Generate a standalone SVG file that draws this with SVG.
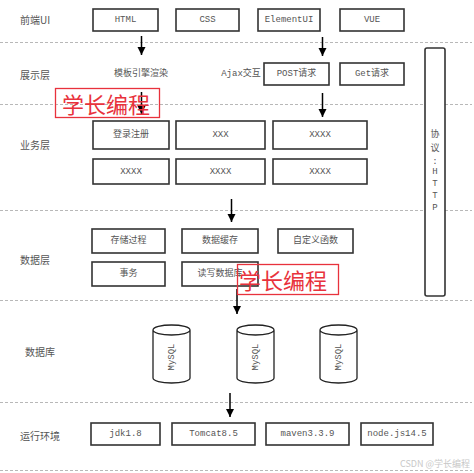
<svg xmlns="http://www.w3.org/2000/svg" width="474" height="473" viewBox="0 0 474 473">
<defs>
<marker id="arr" markerWidth="8" markerHeight="10" refX="8" refY="4" orient="auto" markerUnits="userSpaceOnUse">
<path d="M0,0 L8,4 L0,8 Z" fill="#000"/>
</marker>
</defs>
<style>
.bg{fill:#fff}
.sep{stroke:#b8b8b8;stroke-width:1;stroke-dasharray:3,2;fill:none}
.box{fill:#fff;stroke:#333;stroke-width:1.6}
.t{font-family:"Liberation Mono","Noto Sans CJK SC",monospace;font-size:9px;fill:#555;text-anchor:middle;dominant-baseline:central}
.lbl{font-family:"Noto Sans CJK SC","Liberation Sans",sans-serif;font-size:10px;fill:#555;dominant-baseline:central}
.cyl{fill:#fff;stroke:#222;stroke-width:1.3}
.edge{stroke:#000;stroke-width:1.5;fill:none;marker-end:url(#arr)}
.wm{fill:none;stroke:#e8323c;stroke-width:1.3}
.wmt{font-family:"Noto Sans CJK SC",sans-serif;font-size:22px;fill:#e8323c;dominant-baseline:central}
</style>
<rect class="bg" x="0" y="0" width="474" height="473"/>
<g id="separators">
<line class="sep" x1="0" y1="42.5" x2="472" y2="42.5"/>
<line class="sep" x1="0" y1="104.5" x2="472" y2="104.5"/>
<line class="sep" x1="0" y1="210.5" x2="472" y2="210.5"/>
<line class="sep" x1="0" y1="300.5" x2="472" y2="300.5"/>
<line class="sep" x1="0" y1="402.5" x2="472" y2="402.5"/>
<line class="sep" x1="0" y1="470.5" x2="472" y2="470.5"/>
</g>
<g id="layer-labels">
<text class="lbl" x="20" y="19">前端UI</text>
<text class="lbl" x="20" y="74">展示层</text>
<text class="lbl" x="20" y="144">业务层</text>
<text class="lbl" x="20" y="259">数据层</text>
<text class="lbl" x="25" y="351">数据库</text>
<text class="lbl" x="20" y="435">运行环境</text>
</g>
<g id="protocol">
<rect class="box" x="425" y="48" width="20" height="248" rx="2"/>
<text class="t" x="435" y="135">协</text>
<text class="t" x="435" y="149">议</text>
<text class="t" x="435" y="162">:</text>
<text class="t" x="435" y="172">H</text>
<text class="t" x="435" y="184">T</text>
<text class="t" x="435" y="196">T</text>
<text class="t" x="435" y="208">P</text>
</g>
<g id="html"><rect class="box" x="93" y="9" width="65" height="22"/><text class="t" x="125.5" y="20">HTML</text></g>
<g id="css"><rect class="box" x="176" y="9" width="63" height="22"/><text class="t" x="207.5" y="20">CSS</text></g>
<g id="elementui"><rect class="box" x="258" y="9" width="62" height="22"/><text class="t" x="289" y="20">ElementUI</text></g>
<g id="vue"><rect class="box" x="340" y="9" width="64" height="22"/><text class="t" x="372" y="20">VUE</text></g>
<g id="template"><text class="t" x="141" y="74">模板引擎渲染</text></g>
<g id="ajax"><text class="t" x="241" y="74">Ajax交互</text></g>
<g id="post"><rect class="box" x="264" y="63" width="65" height="22"/><text class="t" x="296.5" y="74">POST请求</text></g>
<g id="get"><rect class="box" x="340" y="63" width="64" height="22"/><text class="t" x="372" y="74">Get请求</text></g>
<g id="login"><rect class="box" x="93" y="121" width="76" height="28"/><text class="t" x="131" y="135">登录注册</text></g>
<g id="b2"><rect class="box" x="176" y="121" width="89" height="28"/><text class="t" x="220.5" y="135">XXX</text></g>
<g id="b3"><rect class="box" x="273" y="121" width="94" height="28"/><text class="t" x="320" y="135">XXXX</text></g>
<g id="b4"><rect class="box" x="93" y="159" width="76" height="25"/><text class="t" x="131" y="171.5">XXXX</text></g>
<g id="b5"><rect class="box" x="176" y="159" width="89" height="25"/><text class="t" x="220.5" y="171.5">XXXX</text></g>
<g id="b6"><rect class="box" x="273" y="159" width="94" height="25"/><text class="t" x="320" y="171.5">XXXX</text></g>
<g id="proc"><rect class="box" x="92" y="229" width="73" height="24"/><text class="t" x="128.5" y="241">存储过程</text></g>
<g id="cache"><rect class="box" x="182" y="229" width="76" height="24"/><text class="t" x="220" y="241">数据缓存</text></g>
<g id="func"><rect class="box" x="278" y="229" width="75" height="24"/><text class="t" x="315.5" y="241">自定义函数</text></g>
<g id="tx"><rect class="box" x="92" y="262" width="73" height="24"/><text class="t" x="128.5" y="274">事务</text></g>
<g id="rw"><rect class="box" x="182" y="262" width="76" height="24"/><text class="t" x="220" y="274">读写数据库</text></g>
<g id="db1"><path class="cyl" d="M153,330 V378 A18.5,5 0 0 0 190,378 V330 A18.5,5 0 0 0 153,330 A18.5,5 0 0 0 190,330"/><text class="t" transform="translate(171.5,357) rotate(-90)" x="0" y="0">MySQL</text></g>
<g id="db2"><path class="cyl" d="M237,330 V378 A18.5,5 0 0 0 274,378 V330 A18.5,5 0 0 0 237,330 A18.5,5 0 0 0 274,330"/><text class="t" transform="translate(255.5,357) rotate(-90)" x="0" y="0">MySQL</text></g>
<g id="db3"><path class="cyl" d="M320,330 V378 A18.5,5 0 0 0 357,378 V330 A18.5,5 0 0 0 320,330 A18.5,5 0 0 0 357,330"/><text class="t" transform="translate(338.5,357) rotate(-90)" x="0" y="0">MySQL</text></g>
<g id="jdk"><rect class="box" x="91" y="423" width="69" height="22"/><text class="t" x="125.5" y="434">jdk1.8</text></g>
<g id="tomcat"><rect class="box" x="172" y="423" width="83" height="22"/><text class="t" x="213.5" y="434">Tomcat8.5</text></g>
<g id="maven"><rect class="box" x="266" y="423" width="83" height="22"/><text class="t" x="307.5" y="434">maven3.3.9</text></g>
<g id="node"><rect class="box" x="361" y="423" width="72" height="22"/><text class="t" x="397" y="434">node.js14.5</text></g>
<g id="connectors">
<line class="edge" x1="141.5" y1="36" x2="141.5" y2="55"/>
<line class="edge" x1="322.5" y1="37" x2="322.5" y2="56"/>
<line class="edge" x1="141.5" y1="92" x2="141.5" y2="114"/>
<line class="edge" x1="322.5" y1="93" x2="322.5" y2="117"/>
<line class="edge" x1="231.5" y1="199" x2="231.5" y2="222"/>
<line class="edge" x1="237" y1="289" x2="237" y2="314"/>
<line class="edge" x1="230" y1="393" x2="230" y2="417"/>
</g>
<g id="watermarks">
<rect class="wm" x="55.5" y="88.5" width="104" height="29"/>
<text class="wmt" x="62" y="103">学长编程</text>
<rect class="wm" x="237.5" y="264.5" width="101" height="30"/>
<text class="wmt" x="239" y="279">学长编程</text>
<text x="470" y="463" font-family="Noto Sans CJK SC,sans-serif" font-size="9" fill="#c8c8c8" text-anchor="end" dominant-baseline="central">CSDN @学长编程</text>
</g>
</svg>
